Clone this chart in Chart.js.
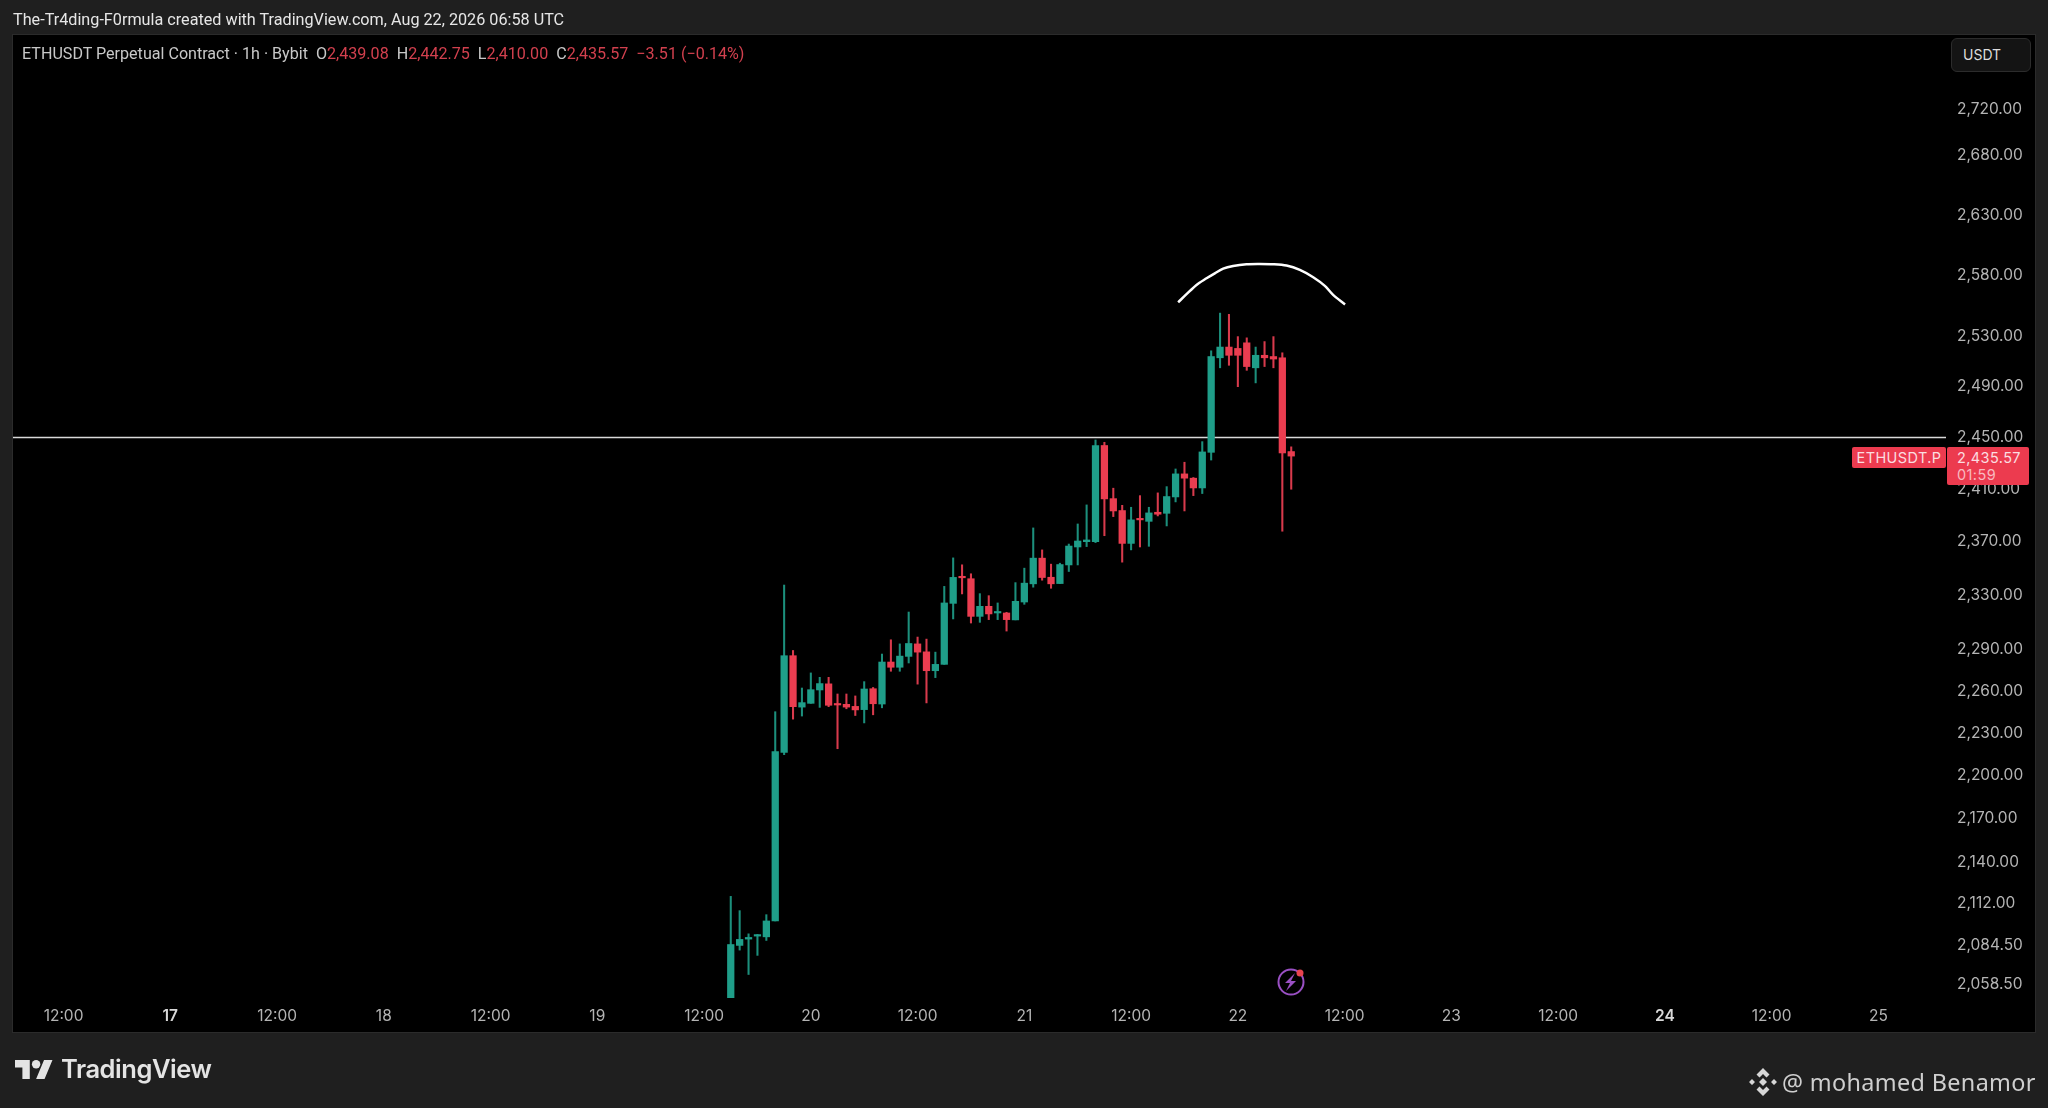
<!DOCTYPE html>
<html>
<head>
    <title>ETHUSDT Perpetual Contract</title>
    <script src="https://cdn.jsdelivr.net/npm/chart.js"></script>
    <style>
        html, body { margin: 0; padding: 0; width: 2048px; height: 1108px; overflow: hidden; background: #1f1f1f; font-family: Inter, "Liberation Sans", sans-serif; }
        div, svg, canvas { position: absolute; }
        span { color: #d2404e; }
        #pane { left: 13px; top: 35px; width: 2022px; height: 997px; background: #000; box-shadow: 0 0 0 1px #2b2b2b; }
        #chart { left: 0; top: 0; }
        #credit { left: 13px; top: 10px; font: 16.2px Roboto, sans-serif; color: #e6e6e6; white-space: nowrap; }
        #legend { left: 22px; top: 44px; font: 16.1px Roboto, sans-serif; color: #c8c8c8; white-space: pre; }
        #unit { left: 1951px; top: 38px; width: 78px; height: 32px; border: 1px solid #2c2c2c; border-radius: 6px; background: #141414; color: #ddd; font-size: 14px; line-height: 32px; text-indent: 11px; }
        .tag { background: #ec3b4f; color: #fbdde0; font-size: 14.5px; letter-spacing: 0.4px; border-radius: 2px; }
        #symbol { left: 1852px; top: 447px; width: 94px; height: 21px; line-height: 21px; text-align: center; }
        #last { left: 1947px; top: 447px; width: 82px; height: 38px; line-height: 17px; padding: 2px 0 0 10px; box-sizing: border-box; }
        #last small { font-size: 14.5px; color: #f8b9c0; }
        #brand { left: 61px; top: 1053px; font-size: 25.5px; font-weight: 600; letter-spacing: -0.45px; color: #e4e4e4; }
        #author { left: 1782px; top: 1066px; font: 23.4px "Noto Sans", sans-serif; letter-spacing: 0.35px; color: #cfcfcf; white-space: nowrap; }
    </style>
</head>
<body>
    <div id="pane"></div>
    <canvas id="chart" width="2048" height="1108"></canvas>
    <div id="credit">The-Tr4ding-F0rmula created with TradingView.com, Aug 22, 2026 06:58 UTC</div>
    <div id="legend">ETHUSDT Perpetual Contract · 1h · Bybit  O<span>2,439.08</span>  H<span>2,442.75</span>  L<span>2,410.00</span>  C<span>2,435.57</span>  <span>−3.51 (−0.14%)</span></div>
    <div id="unit">USDT</div>
    <div id="symbol" class="tag">ETHUSDT.P</div>
    <div id="last" class="tag">2,435.57<br><small>01:59</small></div>

    <svg style="left:15px;top:1060px" width="38" height="19" viewBox="0 4 36 18"><path fill="#e4e4e4" d="M14 22H7V11H0V4h14v18zM28 22h-8l7.5-18h8L28 22z"/><circle fill="#e4e4e4" cx="20" cy="8" r="4"/></svg>
    <div id="brand">TradingView</div>
    <svg style="left:1749px;top:1068px" width="28" height="28" viewBox="0 0 28 28" fill="#d6d6d6"><path d="M14 0l6.500 6.500-3 3L14 6 10.500 9.500l-3-3zM14 28l-6.500-6.500 3-3L14 22l3.500-3.500 3 3zM0 14l3-3 3 3-3 3zM22 14l3-3 3 3-3 3zM14 10l4 4-4 4-4-4z"/></svg>
    <div id="author">@ mohamed Benamor</div>
    <svg style="left:1272px;top:965px" width="36" height="36" viewBox="0 0 36 36"><circle cx="19" cy="17" r="12.500" fill="none" stroke="#9a50c4" stroke-width="2"/><path d="M23 8l-10 10h5l-4 8 10-10h-5z" fill="#9a50c4"/><circle cx="28" cy="8" r="3.500" fill="#e8434f"/></svg>

    <script>
        // candle times are hours counted from Aug 16 00:00, first candle is Aug 19 15:00
        const firstHour = 87;

        const opens = [2049, 2084.2, 2088.4, 2090.4, 2089.9, 2100.5, 2216.3, 2285.6, 2248.5, 2251.2, 2260.8, 2265.2, 2250.9, 2250.5, 2249, 2246.7,
            2261.7, 2250.7, 2281, 2277.2, 2285.1, 2294.2, 2288.4, 2274.7, 2279.3, 2324, 2344, 2342.3, 2314.4, 2321.8, 2316.9, 2316.9,
            2311.8, 2325, 2338.5, 2357.7, 2343.4, 2338.7, 2352.6, 2366.1, 2370.1, 2370.1, 2443.8, 2402.8, 2393.7, 2368.8, 2387.6, 2385.5,
            2392.4, 2391.6, 2404.1, 2421.8, 2418.5, 2411, 2438.5, 2513, 2521.6, 2520.5, 2525, 2505, 2515, 2514, 2513, 2439.08];
        const highs = [2117, 2107.4, 2091.9, 2091.5, 2104.7, 2245.2, 2337.6, 2289.4, 2262.2, 2273.1, 2269.9, 2269.9, 2257.9, 2257.9, 2256.5, 2266.8,
            2262.6, 2286.8, 2297.2, 2294.2, 2317.6, 2299.2, 2297.7, 2288.2, 2336.6, 2357.9, 2352.7, 2346, 2331.2, 2329.7, 2324.3, 2317.4,
            2339.4, 2350.2, 2380.5, 2363.9, 2353.2, 2353.9, 2368.3, 2383.5, 2398, 2448.1, 2446.3, 2410.8, 2397.7, 2396.2, 2405.1, 2396.2,
            2407.2, 2412, 2425.6, 2430.8, 2419, 2446.8, 2518.6, 2549, 2548, 2530, 2529, 2521.6, 2526, 2530, 2517, 2442.75];
        const lows = [2049, 2081.1, 2065, 2077.6, 2087.5, 2100.5, 2214.7, 2239.9, 2242.1, 2251.2, 2248.3, 2248.8, 2218.9, 2247.3, 2242.5, 2237.2,
            2243, 2248, 2274.3, 2274.3, 2280.3, 2265, 2251.5, 2269.7, 2279.3, 2312.5, 2331, 2309.5, 2310, 2312, 2312, 2303.6,
            2311.8, 2323.3, 2336, 2341.2, 2335.2, 2338.7, 2347.7, 2352.6, 2366.4, 2369.4, 2374.6, 2389.1, 2354.7, 2363.9, 2366.1, 2366.6,
            2389.6, 2382, 2400.3, 2393.4, 2405.1, 2406.7, 2432.5, 2505, 2507, 2490, 2503, 2493, 2506, 2505, 2378, 2410];
        const closes = [2084.8, 2088.2, 2089.5, 2091, 2100.5, 2216.8, 2285.6, 2248.8, 2251.7, 2261, 2265.4, 2249.8, 2250, 2248.5, 2246.5, 2261.5,
            2250.9, 2281, 2277.2, 2285.3, 2294.5, 2288.2, 2274.7, 2279.3, 2324.3, 2343.3, 2343, 2314.4, 2321.8, 2316.2, 2317.7, 2312,
            2325.5, 2339, 2357.7, 2343.2, 2338.5, 2352.9, 2366.8, 2370.6, 2371.4, 2443.8, 2402.6, 2393.4, 2368.8, 2386.6, 2386.6, 2391.9,
            2390.9, 2404.4, 2421.8, 2418.5, 2411, 2438.8, 2514, 2521.6, 2515, 2515, 2506, 2515, 2513, 2512, 2438, 2435.57];

        const priceTicks = [2720, 2680, 2630, 2580, 2530, 2490, 2450, 2410, 2370, 2330, 2290, 2260, 2230, 2200, 2170, 2140, 2112, 2084.5, 2058.5];
        const timeTicks = [12, 24, 36, 48, 60, 72, 84, 96, 108, 120, 132, 144, 156, 168, 180, 192, 204, 216];
        const timeLabels = ['12:00', '17', '12:00', '18', '12:00', '19', '12:00', '20', '12:00', '21', '12:00', '22', '12:00', '23', '12:00', '24', '12:00', '25'];
        const boldLabels = ['17', '24'];

        const resistance = 2450;

        // hand drawn arc above the top
        const arcHours = [137.29, 138.23, 139.35, 140.48, 141.41, 142.35, 143.47, 144.97, 146.47, 147.97, 149.47, 150.97, 152.47, 153.78, 154.71, 156.05];
        const arcPrices = [2557.8, 2564.4, 2572, 2577.4, 2581.5, 2585.4, 2587.6, 2589, 2589.2, 2589, 2587.9, 2584.3, 2578.3, 2571.2, 2563.8, 2556];

        const xMin = 6.32, xMax = 223.6;
        const yMin = 2049.6, yMax = 2785;

        const upColor = '#1f9e89';
        const downColor = '#ea3d50';
        const upWick = '#1c8f7c';
        const downWick = '#d83a4c';

        // split the candles in up and down, wick and body
        function candleData(up, wick) {
            const out = [];
            opens.forEach((open, i) => {
                if ((closes[i] >= open) !== up) return;
                const y = wick ? [lows[i], highs[i]] : [Math.min(open, closes[i]), Math.max(open, closes[i])];
                out.push({ x: firstHour + i, y: y });
            });
            return out;
        }

        function candleSet(up, wick) {
            return {
                type: 'bar',
                data: candleData(up, wick),
                backgroundColor: wick ? (up ? upWick : downWick) : (up ? upColor : downColor),
                barThickness: wick ? 1.4 : 6.6,
                minBarLength: 1.5,
                grouped: false,
                borderSkipped: false,
                order: wick ? 2 : 1
            };
        }

        function lineSet(points, color, width, tension) {
            return {
                type: 'line',
                data: points,
                borderColor: color,
                borderWidth: width,
                pointRadius: 0,
                tension: tension,
                order: 5
            };
        }

        new Chart(document.getElementById('chart').getContext('2d'), {
            type: 'bar',
            data: {
                datasets: [
                    lineSet([{ x: xMin, y: resistance }, { x: xMax, y: resistance }], '#d9d9d9', 1.5, 0),
                    lineSet(arcHours.map((h, i) => ({ x: h, y: arcPrices[i] })), '#ffffff', 2.5, 0.3),
                    candleSet(true, true),
                    candleSet(false, true),
                    candleSet(true, false),
                    candleSet(false, false)
                ]
            },
            options: {
                responsive: false,
                animation: false,
                layout: { padding: { left: 13, top: 35, right: 13, bottom: 75 } },
                plugins: { legend: { display: false }, tooltip: { enabled: false } },
                scales: {
                    x: {
                        type: 'linear',
                        offset: false,
                        min: xMin,
                        max: xMax,
                        grid: { display: false, drawTicks: false },
                        border: { display: false },
                        afterBuildTicks: scale => { scale.ticks = timeTicks.map(v => ({ value: v })); },
                        afterFit: scale => { scale.height = 35; },
                        ticks: {
                            autoSkip: false,
                            maxRotation: 0,
                            padding: 9,
                            color: ctx => boldLabels.includes(timeLabels[ctx.index]) ? '#d8d8d8' : '#b4b4b4',
                            font: ctx => ({ family: 'Inter', size: 15.5, weight: boldLabels.includes(timeLabels[ctx.index]) ? '600' : '400' }),
                            callback: (value, index) => timeLabels[index]
                        }
                    },
                    y: {
                        type: 'logarithmic',
                        position: 'right',
                        min: yMin,
                        max: yMax,
                        grid: { display: false, drawTicks: false },
                        border: { display: false },
                        afterBuildTicks: scale => { scale.ticks = priceTicks.map(v => ({ value: v })); },
                        afterFit: scale => { scale.width = 89; },
                        ticks: {
                            autoSkip: false,
                            padding: 11,
                            color: '#b4b4b4',
                            font: { family: 'Inter', size: 15.5 },
                            callback: value => value.toLocaleString('en-US', { minimumFractionDigits: 2, maximumFractionDigits: 2 })
                        }
                    }
                }
            }
        });
    </script>
</body>
</html>
